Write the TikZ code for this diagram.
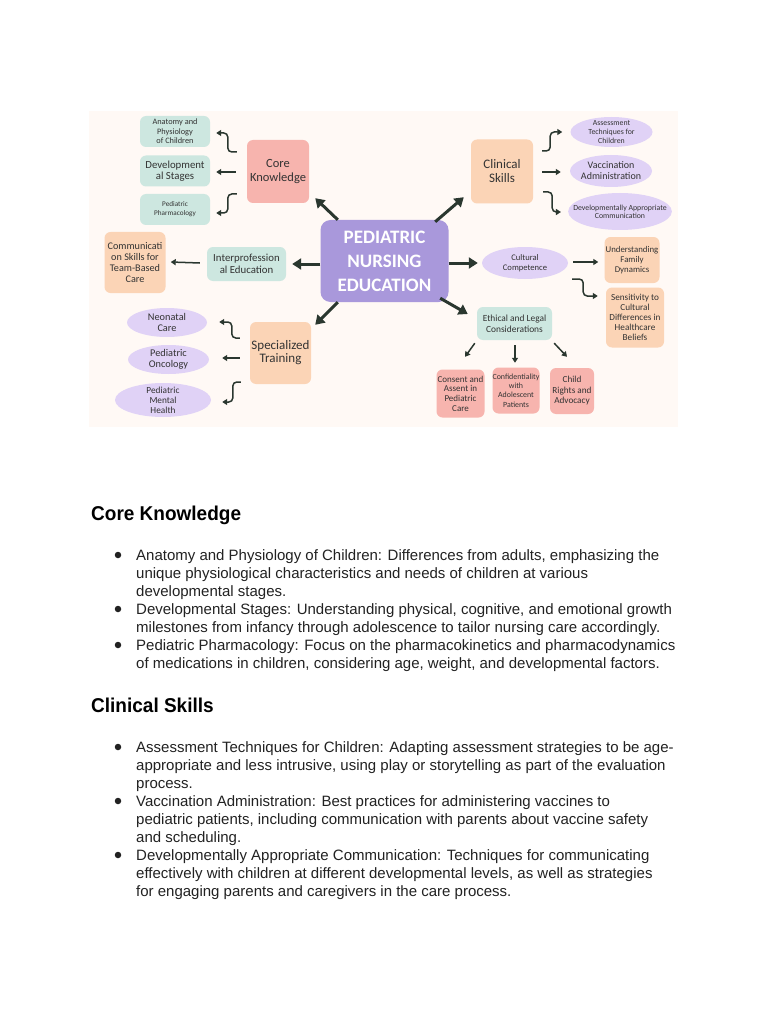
\documentclass[tikz,border=0pt]{standalone}
\usepackage{fontspec}
\setmainfont{Liberation Sans}
\newfontfamily\bodyfont{Liberation Sans}
\newfontfamily\headfont[FakeStretch=0.95]{Liberation Sans}
\newfontfamily\handfont{Carlito}
\usetikzlibrary{arrows.meta,shapes.geometric}
\definecolor{bgc}{HTML}{FFF9F5}
\definecolor{purpc}{HTML}{A998DB}
\definecolor{lpurp}{HTML}{E0D2F6}
\definecolor{tealc}{HTML}{CDE7E0}
\definecolor{pinkc}{HTML}{F7B4AE}
\definecolor{orngc}{HTML}{FBD4B6}
\definecolor{arrc}{HTML}{2A372F}
\definecolor{txtc}{HTML}{333333}
\definecolor{bodyc}{HTML}{222222}
\tikzset{
  fs/.style 2 args={font=\handfont\fontsize{#1}{#2}\selectfont},
  box/.style={rectangle, rounded corners=6pt, inner sep=0pt, align=center, text=txtc},
  tealbox/.style={box, fill=tealc},
  pinkbox/.style={box, fill=pinkc},
  orngbox/.style={box, fill=orngc},
  ellbox/.style={ellipse, inner sep=-10pt, align=center, text=txtc, fill=lpurp},
  bigarr/.style={draw=arrc, line width=3pt, -{Triangle[length=9pt,width=11pt]}},
  smallarr/.style={draw=arrc, line width=1.5pt, rounded corners=4pt, -{Triangle[length=5pt,width=6pt]}},
  bodyline/.style={anchor=base west, inner sep=0pt, font=\bodyfont\fontsize{15}{18}\selectfont, text=bodyc},
  headline/.style={anchor=base west, inner sep=0pt, font=\headfont\bfseries\fontsize{20}{22}\selectfont, text=black},
  bulletdot/.style={circle, fill=bodyc, inner sep=0pt, minimum size=6.5pt}
}
\begin{document}
\begin{tikzpicture}[x=1pt,y=-1pt]
\useasboundingbox[fill=white] (0,0) rectangle (768,1024);
\fill[bgc] (89,111) rectangle (678,427);

% central node
\node[box, fill=purpc, text=white, rounded corners=10pt, minimum width=128pt, minimum height=82pt, font=\handfont\bfseries\fontsize{19}{24}\selectfont] (center) at (384.5,261) {PEDIATRIC\\NURSING\\EDUCATION};

% core knowledge branch
\node[pinkbox, minimum width=62pt, minimum height=63pt, fs={12.5}{14}] (core) at (278,171.5) {Core\\Knowledge};
\node[tealbox, minimum width=70pt, minimum height=31pt, fs={8.3}{9.5}] (anat) at (175,131.5) {Anatomy and\\Physiology\\of Children};
\node[tealbox, minimum width=70pt, minimum height=31pt, fs={10.8}{11.5}] (dev) at (175,171) {Development\\al Stages};
\node[tealbox, minimum width=70pt, minimum height=31pt, fs={7.2}{9}] (pharm) at (175,209.5) {Pediatric\\Pharmacology};

% interprofessional branch
\node[tealbox, minimum width=79pt, minimum height=34pt, fs={10.8}{12}] (interp) at (246.5,264) {Interprofession\\al Education};
\node[orngbox, minimum width=61pt, minimum height=61pt, fs={10.2}{11}] (comm) at (135,262.5) {Communicati\\on Skills for\\Team-Based\\Care};

% specialized training branch
\node[orngbox, minimum width=61pt, minimum height=62pt, fs={13}{13}] (spec) at (280.5,353) {Specialized\\Training};
\node[ellbox, minimum width=80pt, minimum height=29pt, fs={10.3}{11}] (neo) at (167,322.5) {Neonatal\\Care};
\node[ellbox, minimum width=81pt, minimum height=29pt, fs={10.3}{11.5}] (onc) at (168.5,359.5) {Pediatric\\Oncology};
\node[ellbox, minimum width=96pt, minimum height=34pt, fs={9.3}{10}] (mental) at (163,400) {Pediatric\\Mental\\Health};

% clinical skills branch
\node[orngbox, minimum width=62pt, minimum height=64pt, fs={13}{14}] (clin) at (502,171.5) {Clinical\\Skills};
\node[ellbox, minimum width=82pt, minimum height=30pt, fs={7.8}{8.8}] (assess) at (611.5,132) {Assessment\\Techniques for\\Children};
\node[ellbox, minimum width=82pt, minimum height=32pt, fs={10}{11}] (vacc) at (611,171) {Vaccination\\Administration};
\node[ellbox, minimum width=102pt, minimum height=37pt, fs={7.8}{7.8}] (devcomm) at (620,211.5) {Developmentally Appropriate\\Communication};

% cultural competence branch
\node[ellbox, minimum width=86pt, minimum height=32pt, fs={8.6}{10}] (cult) at (525,263) {Cultural\\Competence};
\node[orngbox, minimum width=55pt, minimum height=46pt, fs={8.8}{10}] (fam) at (632,260) {Understanding\\Family\\Dynamics};
\node[orngbox, minimum width=58pt, minimum height=60pt, fs={9.2}{10}] (sens) at (635,317.5) {Sensitivity to\\Cultural\\Differences in\\Healthcare\\Beliefs};

% ethical branch
\node[tealbox, minimum width=75pt, minimum height=33pt, fs={9.4}{10.7}] (eth) at (514.5,323.5) {Ethical and Legal\\Considerations};
\node[pinkbox, minimum width=48pt, minimum height=48pt, fs={9}{9.7}] (consent) at (460.5,393.5) {Consent and\\Assent in\\Pediatric\\Care};
\node[pinkbox, minimum width=47pt, minimum height=46pt, fs={7.9}{9.2}] (conf) at (516,390.5) {Confidentiality\\with\\Adolescent\\Patients};
\node[pinkbox, minimum width=44pt, minimum height=46pt, fs={9.2}{10.5}] (child) at (572,391) {Child\\Rights and\\Advocacy};

% big arrows from the centre
\draw[bigarr] ([shift={(17.5,0)}]center.north west) -- ([shift={(6,-5)}]core.south east);
\draw[bigarr] ([shift={(-13.5,2)}]center.north east) -- ([shift={(-7,-6.5)}]clin.south west);
\draw[bigarr] (interp.east -| center.west) -- ([xshift=6pt]interp.east);
\draw[bigarr] (cult.west -| center.east) -- ([xshift=-4pt]cult.west);
\draw[bigarr] ([shift={(17.5,0)}]center.south west) -- ([shift={(4,3)}]spec.north east);
\draw[bigarr] ([shift={(-8.5,-4)}]center.south east) -- ([shift={(-9,-9.5)}]eth.west);

% core knowledge arrows
\draw[smallarr] ([shift={(-10,-19.5)}]core.west) -- ++(-9,0) |- ([shift={(6,1.5)}]anat.east);
\draw[smallarr] ([shift={(-11,0.5)}]core.west) -- ([shift={(6,1)}]dev.east);
\draw[smallarr] ([shift={(-10,22.5)}]core.west) -- ++(-9,0) |- ([shift={(6,3.5)}]pharm.east);

% interprofessional arrow
\draw[smallarr] ([shift={(-7,-1)}]interp.west) -- ([shift={(5,-0.5)}]comm.east);

% specialized arrows
\draw[smallarr] ([shift={(-10,-15)}]spec.west) -- ++(-8,0) |- ([shift={(12,-0.5)}]neo.east);
\draw[smallarr] ([shift={(-10,5)}]spec.west) -- ([shift={(13,-1.5)}]onc.east);
\draw[smallarr] ([shift={(-9,29)}]spec.west) -- ++(-8,0) |- ([shift={(11,2)}]mental.east);

% clinical arrows
\draw[smallarr] ([shift={(9,-20.5)}]clin.east) -- ++(8,0) |- ([shift={(-8,0)}]assess.west);
\draw[smallarr] ([shift={(9,0.5)}]clin.east) -- ([shift={(-9,1)}]vacc.west);
\draw[smallarr] ([shift={(10,20.5)}]clin.east) -- ++(9,0) |- ([shift={(-7,0.5)}]devcomm.west);

% cultural arrows
\draw[smallarr] ([shift={(5,-1)}]cult.east) -- ([shift={(-6,2)}]fam.west);
\draw[smallarr] ([shift={(4,16)}]cult.east) -- ++(11,0) |- ([shift={(-8,-21.5)}]sens.west);

% ethical arrows
\draw[smallarr] ([shift={(-2,3)}]eth.south west) -- ([shift={(4.5,-12.5)}]consent.north);
\draw[smallarr] ([shift={(0.5,5)}]eth.south) -- ([shift={(-1,-4.5)}]conf.north);
\draw[smallarr] ([shift={(2,3)}]eth.south east) -- ([shift={(-5,-11)}]child.north);

% text section
\node[headline] (h1) at (91,520) {Core Knowledge};
\foreach \yy/\txt [count=\i] in {
  560/{Anatomy and Physiology of Children: Differences from adults, emphasizing the},
  578/{unique physiological characteristics and needs of children at various},
  596/{developmental stages.},
  614/{Developmental Stages: Understanding physical, cognitive, and emotional growth},
  632/{milestones from infancy through adolescence to tailor nursing care accordingly.},
  650/{Pediatric Pharmacology: Focus on the pharmacokinetics and pharmacodynamics},
  668/{of medications in children, considering age, weight, and developmental factors.}}
  {\node[bodyline] (ck\i) at (136,\yy) {\txt};}
\node[bulletdot] (b1) at (118,555) {};
\node[bulletdot] (b2) at (118,609) {};
\node[bulletdot] (b3) at (118,645) {};

\node[headline] (h2) at (91,712) {Clinical Skills};
\foreach \yy/\txt [count=\i] in {
  752/{Assessment Techniques for Children: Adapting assessment strategies to be age-},
  770/{appropriate and less intrusive, using play or storytelling as part of the evaluation},
  788/{process.},
  806/{Vaccination Administration: Best practices for administering vaccines to},
  824/{pediatric patients, including communication with parents about vaccine safety},
  842/{and scheduling.},
  860/{Developmentally Appropriate Communication: Techniques for communicating},
  878/{effectively with children at different developmental levels, as well as strategies},
  896/{for engaging parents and caregivers in the care process.}}
  {\node[bodyline] (cs\i) at (136,\yy) {\txt};}
\node[bulletdot] (b4) at (118,747) {};
\node[bulletdot] (b5) at (118,801) {};
\node[bulletdot] (b6) at (118,855) {};
\end{tikzpicture}
\end{document}
